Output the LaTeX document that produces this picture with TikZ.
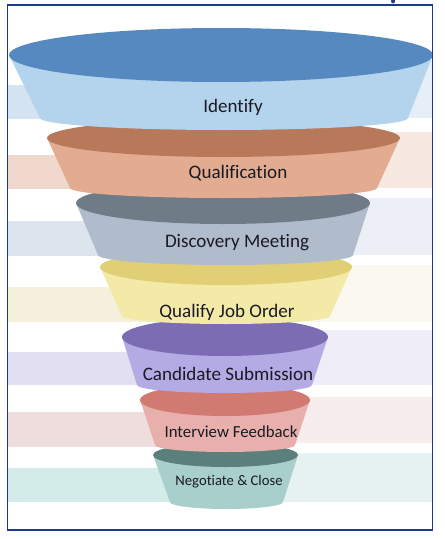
\documentclass[tikz,border=0pt]{standalone}
\usepackage{fontspec}
\setmainfont{Carlito}[Ligatures=NoCommon]

\definecolor{frameblue}{HTML}{1A3A8F}
\definecolor{labeltext}{HTML}{1A1A24}
% funnel colours (top face / body)
\definecolor{idtop}{HTML}{5589C0}   \definecolor{idbody}{HTML}{B4D3EC}
\definecolor{qltop}{HTML}{B8785A}   \definecolor{qlbody}{HTML}{E3AC90}
\definecolor{dmtop}{HTML}{6F7C88}   \definecolor{dmbody}{HTML}{B0BCCB}
\definecolor{qjtop}{HTML}{E0CF74}   \definecolor{qjbody}{HTML}{F3EAA8}
\definecolor{cstop}{HTML}{7B6CB4}   \definecolor{csbody}{HTML}{B4AAE4}
\definecolor{iftop}{HTML}{D07A72}   \definecolor{ifbody}{HTML}{E8B0AC}
\definecolor{nctop}{HTML}{5B7F7A}   \definecolor{ncbody}{HTML}{A8CFCC}
% background bands (left / right)
\definecolor{idleft}{HTML}{D3E3F1}  \definecolor{idright}{HTML}{E6EFF8}
\definecolor{qlleft}{HTML}{F0D8CC}  \definecolor{qlright}{HTML}{F7E8E1}
\definecolor{dmleft}{HTML}{DCE4ED}  \definecolor{dmright}{HTML}{ECF0F6}
\definecolor{qjleft}{HTML}{F4F0DC}  \definecolor{qjright}{HTML}{FBF8EF}
\definecolor{csleft}{HTML}{E3DFF3}  \definecolor{csright}{HTML}{EFEDF8}
\definecolor{ifleft}{HTML}{EFDDDD}  \definecolor{ifright}{HTML}{F7EDED}
\definecolor{ncleft}{HTML}{D3EBE9}  \definecolor{ncright}{HTML}{E5F2F1}

\tikzset{
  stage/.style={text=labeltext, inner sep=0pt, font=\fontsize{14.3}{16}\selectfont},
  smallstage/.style={stage, font=\fontsize{12.6}{14}\selectfont},
  tinystage/.style={stage, font=\fontsize{11}{13}\selectfont}
}

\begin{document}
\begin{tikzpicture}[x=0.75pt, y=-0.75pt]
    \useasboundingbox (0,0) rectangle (444,539);

    % Bandas de fondo
    \fill[idleft]  (8,85)  rectangle (222,119);  \fill[idright] (222,60)  rectangle (432,118);
    \fill[qlleft]  (8,155) rectangle (222,189);  \fill[qlright] (222,132) rectangle (432,188);
    \fill[dmleft]  (8,221) rectangle (222,256);  \fill[dmright] (222,198) rectangle (432,255);
    \fill[qjleft]  (8,287) rectangle (222,322);  \fill[qjright] (222,265) rectangle (432,322);
    \fill[csleft]  (8,352) rectangle (222,385);  \fill[csright] (222,330) rectangle (432,385);
    \fill[ifleft]  (8,412) rectangle (222,447);  \fill[ifright] (222,397) rectangle (432,443);
    \fill[ncleft]  (8,468) rectangle (222,502);  \fill[ncright] (222,453) rectangle (432,502);

    % Negotiate & Close
    \fill[ncbody] (153,455) -- (170,502) arc[start angle=180, end angle=0, x radius=56.5, y radius=7] -- (298,455) -- cycle;
    \fill[nctop] (225.5,455) ellipse[x radius=72.5, y radius=12];
    \node[tinystage] (close) at (229,482) {Negotiate \& Close};

    % Interview Feedback
    \fill[ifbody] (140,400) -- (155,445) arc[start angle=180, end angle=0, x radius=70, y radius=7] -- (310,400) -- cycle;
    \fill[iftop] (225,400) ellipse[x radius=85, y radius=16];
    \node[smallstage] (feedback) at (231,432) {Interview Feedback};

    % Candidate Submission
    \fill[csbody] (122,337) -- (137,385) arc[start angle=180, end angle=0, x radius=87.5, y radius=8] -- (328,337) -- cycle;
    \fill[cstop] (225,337) ellipse[x radius=103, y radius=19];
    \node[stage] (submission) at (228,374) {Candidate Submission};

    % Qualify Job Order
    \fill[qjbody] (100,267) -- (122,316) arc[start angle=180, end angle=0, x radius=104, y radius=8] -- (352,267) -- cycle;
    \fill[qjtop] (226,267) ellipse[x radius=126, y radius=18];
    \node[stage] (joborder) at (227,312) {Qualify Job Order};

    % Discovery Meeting
    \fill[dmbody] (76,203) -- (98,255) arc[start angle=180, end angle=0, x radius=127.5, y radius=10] -- (370,203) -- cycle;
    \fill[dmtop] (223,203) ellipse[x radius=147, y radius=21];
    \node[stage] (discovery) at (237,243) {Discovery Meeting};

    % Qualification
    \fill[qlbody] (47,138) -- (70,188) arc[start angle=180, end angle=0, x radius=153.5, y radius=10] -- (400,138) -- cycle;
    \fill[qltop] (223.5,138) ellipse[x radius=176.5, y radius=19];
    \node[stage] (qualification) at (238,173) {Qualification};

    % Identify
    \fill[idbody] (9,55) -- (40,118) arc[start angle=180, end angle=0, x radius=184, y radius=12] -- (433,55) -- cycle;
    \fill[idtop] (221,55) ellipse[x radius=212, y radius=27];
    \node[stage] (identify) at (233,107) {Identify};

    % Marco
    \draw[frameblue, line width=1.4pt] (7.5,5) rectangle (432.5,530);
    \fill[frameblue] (393,1) ellipse[x radius=2, y radius=2.5];

\end{tikzpicture}
\end{document}
